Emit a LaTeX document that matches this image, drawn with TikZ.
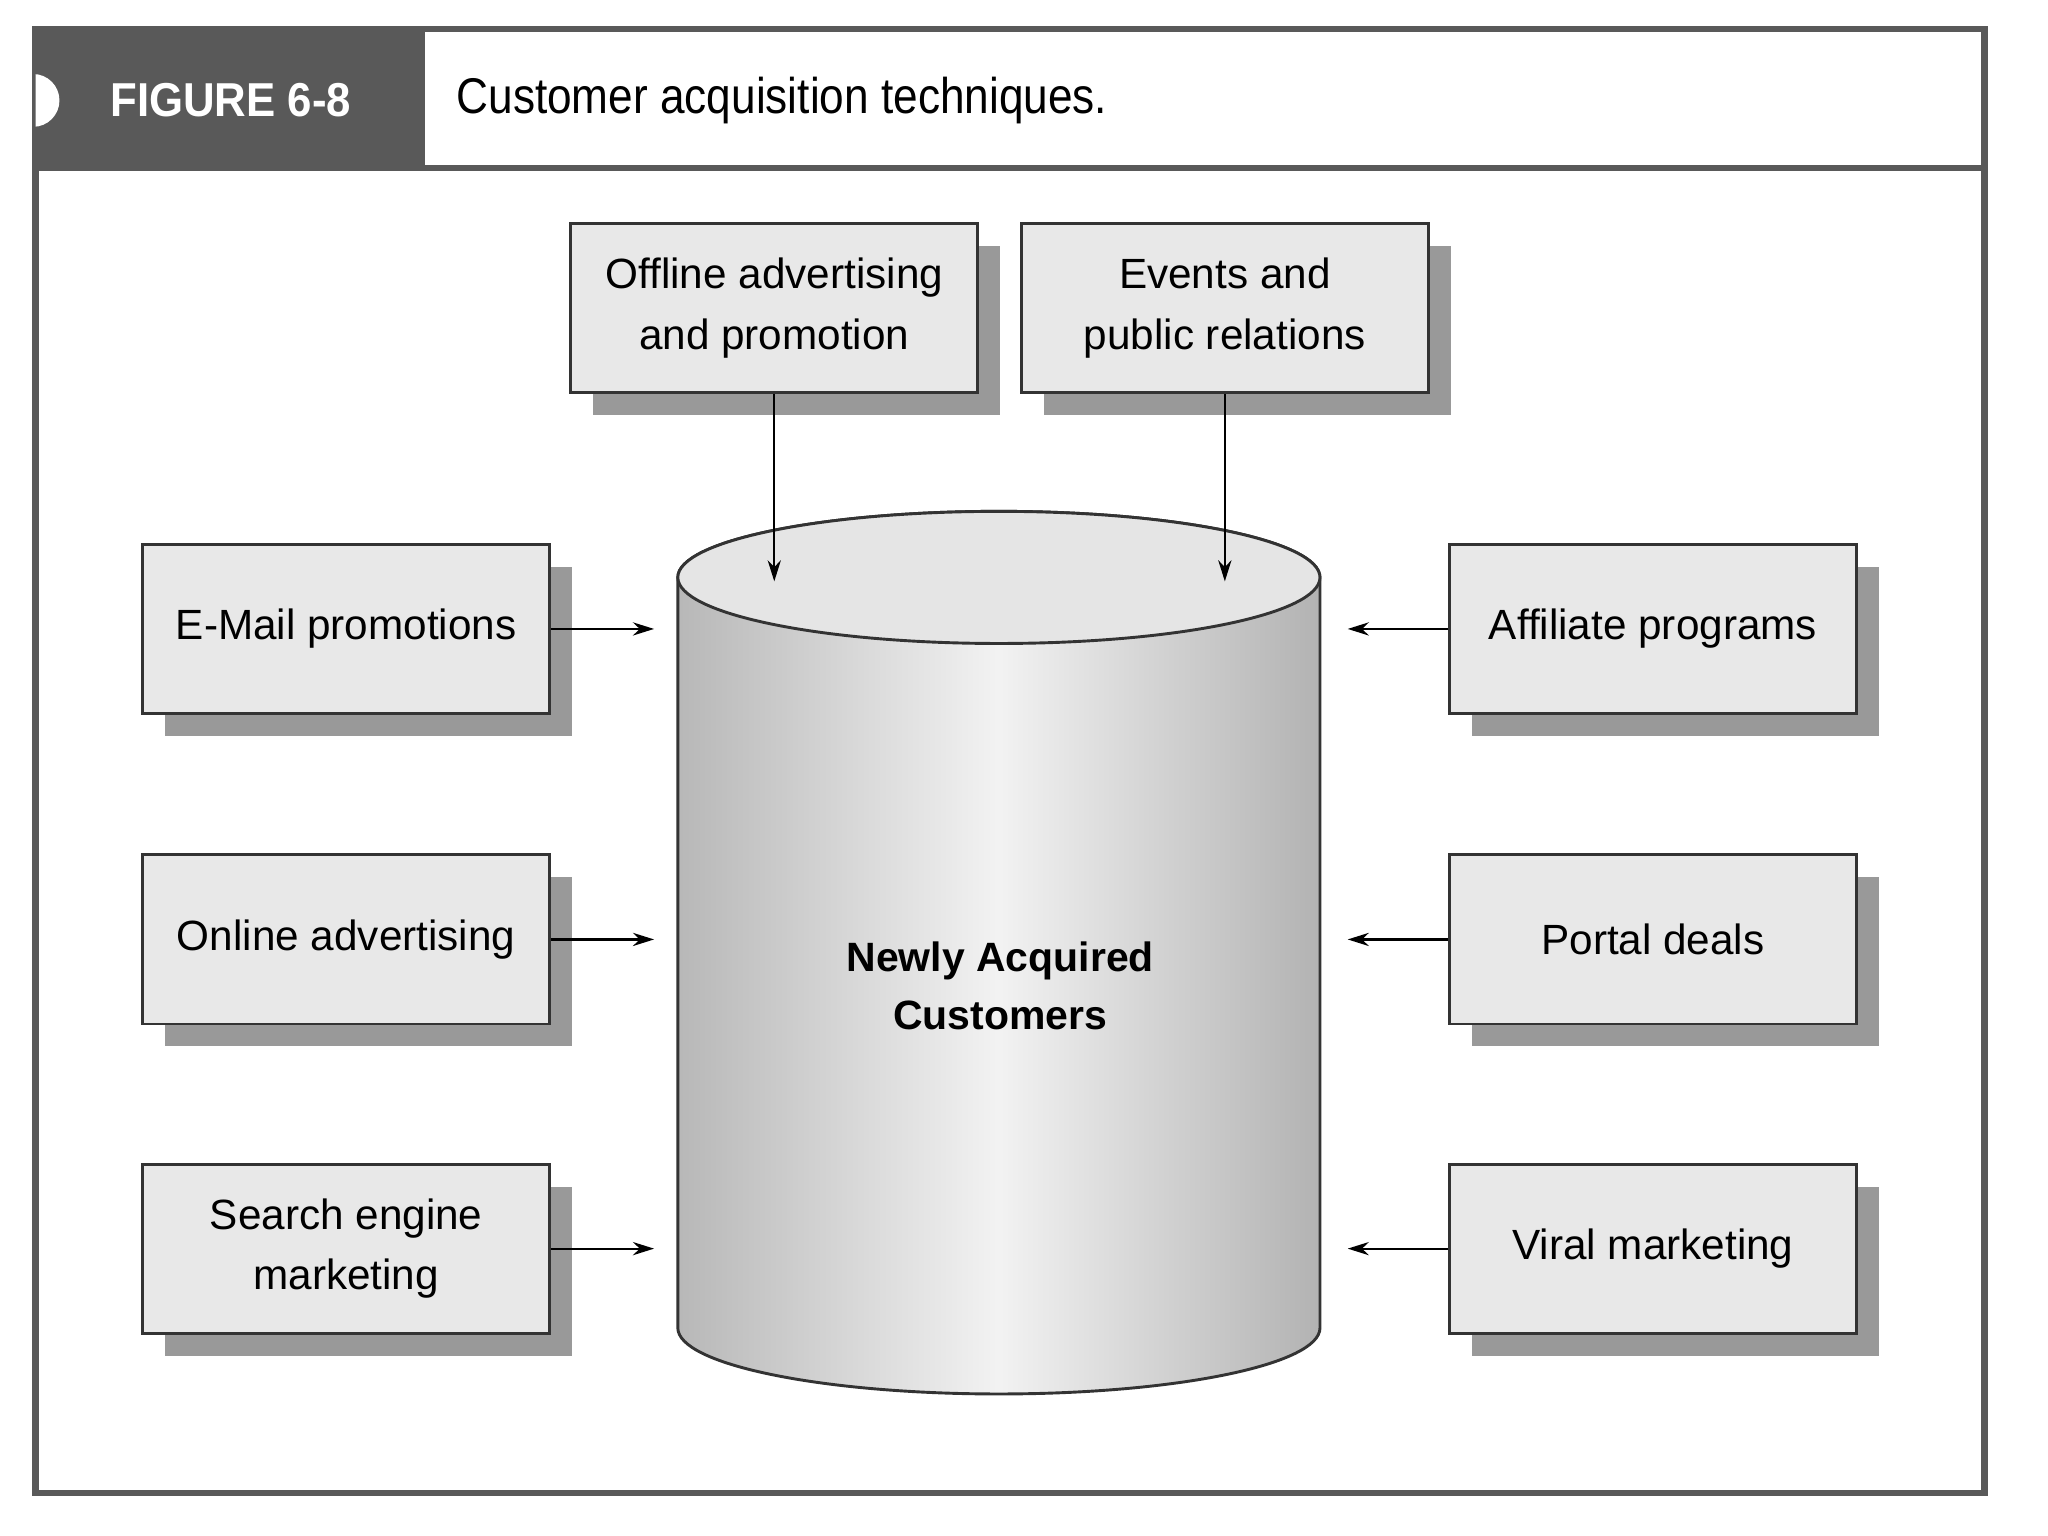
\documentclass[tikz,border=0pt]{standalone}
\usepackage{fontspec}
\setmainfont{Liberation Sans}
\usetikzlibrary{arrows.meta}
\begin{document}
\begin{tikzpicture}[x=1pt,y=-1pt,
 box/.style={draw=black!80,line width=2.2pt,fill=black!9,minimum width=308pt,minimum height=128pt,align=center,font=\fontsize{32}{46}\selectfont,inner sep=0pt},
 shad/.style={fill=black!40,draw=none},
 arr/.style={-{Stealth[length=16pt,width=10pt]},line width=1.6pt}]
\useasboundingbox (0,0) rectangle (1550,1162);
\fill[white] (0,0) rectangle (1550,1162);
% frame
\draw[black!65,line width=5pt] (27,22) rectangle (1502,1130);
\fill[black!65] (27,22) rectangle (322,127);
\draw[black!65,line width=5pt] (27,127) -- (1502,127);
\begin{scope}\clip (27,0) rectangle (80,200); \fill[white] (25,76) circle (20);\end{scope}
\node[anchor=west,text=white,font=\fontsize{36}{40}\selectfont\bfseries] (fig) at (80,76) {\addfontfeature{FakeStretch=0.92}FIGURE 6-8};
\node[anchor=west,font=\fontsize{38}{42}\selectfont] (title) at (342,76) {\addfontfeature{FakeStretch=0.88}Customer acquisition techniques.};
% cylinder
\path[left color=black!28,right color=black!30,middle color=black!5,draw=black!80,line width=2.2pt]
 (513,437) -- (513,1005) arc[x radius=243,y radius=50,start angle=180,end angle=0] -- (999,437) arc[x radius=243,y radius=50,start angle=0,end angle=-180] -- cycle;
\draw[fill=black!10,line width=2.2pt,draw=black!80] (756,437) ellipse[x radius=243,y radius=50];
\node[font=\fontsize{31}{44}\selectfont\bfseries,align=center] (cyl) at (757,746) {Newly Acquired\\Customers};
% boxes
\foreach \n/\x/\y/\t in {off/586/233/{Offline advertising\\and promotion},ev/927/233/{Events and\\public relations},em/262/476/{E-Mail promotions},on/262/711/{Online advertising},se/262/945/{Search engine\\marketing},af/1251/476/{Affiliate programs},po/1251/711/{Portal deals},vi/1251/945/{Viral marketing}}{
 \fill[shad] (\x-137,\y-47) rectangle (\x+171,\y+81);
 \node[box] (\n) at (\x,\y) {\t};
}
\coordinate (toff) at (586,440);
\coordinate (tev) at (927,440);
\coordinate (tem) at (495,476);
\coordinate (ton) at (495,711);
\coordinate (tse) at (495,945);
\coordinate (taf) at (1020,476);
\coordinate (tpo) at (1020,711);
\coordinate (tvi) at (1020,945);
\foreach \n in {off,ev}{\draw[arr] (\n.south) -- (t\n);}
\foreach \n in {em,on,se}{\draw[arr] (\n.east) -- (t\n);}
\foreach \n in {af,po,vi}{\draw[arr] (\n.west) -- (t\n);}
\end{tikzpicture}
\end{document}
